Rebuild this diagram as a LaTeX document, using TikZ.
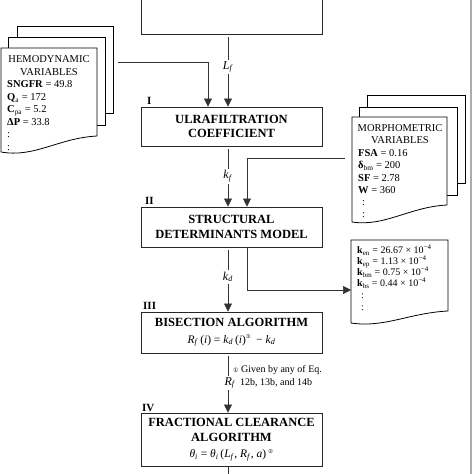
\documentclass[tikz,border=0pt]{standalone}
\usepackage{fontspec}
\setmainfont{Liberation Serif}
\newfontfamily\symf{DejaVu Sans}
\usetikzlibrary{arrows.meta}
\newcommand{\cnum}[1]{\textsuperscript{{\symf\fontsize{5.5}{5.5}\selectfont #1}}}
\newcommand{\isub}[2]{\textit{#1}\textsubscript{\textit{#2}}}
\begin{document}
\begin{tikzpicture}[x=1pt,y=-1pt,
  box/.style={draw=black!85, line width=0.9pt, minimum width=181pt, inner sep=0pt, align=center,
    font=\fontsize{12.5}{14}\selectfont\bfseries},
  arr/.style={draw=black!80, line width=0.7pt, -{Triangle[length=8pt,width=8pt]}},
  ln/.style={draw=black!80, line width=0.7pt},
  sheet/.style={draw=black, line width=0.8pt, fill=white},
  lab/.style={fill=white, inner sep=1.5pt, font=\fontsize{12}{12}\selectfont},
  rom/.style={anchor=base west, inner sep=0pt, font=\fontsize{11}{11}\selectfont\bfseries},
  dtitle/.style={anchor=base, inner sep=0pt, font=\fontsize{10.5}{10.5}\selectfont},
  drow/.style={anchor=base west, inner sep=0pt, font=\fontsize{10.5}{10.5}\selectfont},
  krow/.style={anchor=base west, inner sep=0pt, font=\fontsize{10}{10}\selectfont},
  fn/.style={anchor=base west, inner sep=0pt, font=\fontsize{10}{10}\selectfont}
]
\useasboundingbox (0,0) rectangle (474,474);
\clip (0,0) rectangle (474,474);
\fill[gray!65] (469.5,0) rectangle (471.5,474);

% hemodynamic variables document
\draw[sheet] (17,26) rectangle (113,113);
\draw[sheet] (8,37) rectangle (105,125);
\draw[sheet] (1,48) -- (97,48) -- (97,136) .. controls (58.6,138) and (34.6,158) .. (1,152) -- cycle;
\node[dtitle] (h1) at (49,62) {HEMODYNAMIC};
\node[dtitle] (h2) at (49,75) {VARIABLES};
\node[drow] (h3) at (7,87.5) {\textbf{SNGFR} = 49.8};
\node[drow] (h4) at (7,100.5) {\textbf{Q}\textsubscript{a} = 172};
\node[drow] (h5) at (7,112.5) {\textbf{C}\textsubscript{pa} = 5.2};
\node[drow] (h6) at (7,125.5) {\textbf{ΔP} = 33.8};
\node[drow] (h7) at (7,137.5) {:};
\node[drow] (h8) at (7,150) {:};
\coordinate (hemoout) at (118,62);

% morphometric variables document
\draw[sheet] (367,95) rectangle (465,183);
\draw[sheet] (359,107) rectangle (457,195);
\draw[sheet] (352,117) -- (447,117) -- (447,205) .. controls (409,207) and (385,227) .. (352,222) -- cycle;
\node[dtitle] (m1) at (400,131.5) {MORPHOMETRIC};
\node[dtitle] (m2) at (400,143.5) {VARIABLES};
\node[drow] (m3) at (358,156.5) {\textbf{FSA} = 0.16};
\node[drow] (m4) at (358,168.5) {\textbf{δ}\textsubscript{bm} = 200};
\node[drow] (m5) at (358,181.5) {\textbf{SF} = 2.78};
\node[drow] (m6) at (358,193.5) {\textbf{W} = 360};
\node[drow] (m7) at (362,205.5) {:};
\node[drow] (m8) at (362,217.5) {:};
\coordinate (morphout) at (345,158);

% k document
\draw[sheet] (351,240) -- (448,240) -- (448,311) .. controls (409,313) and (385,328) .. (351,323) -- cycle;
\node[krow] (k1) at (357,253.5) {\textbf{k}\textsubscript{en} = 26.67 × 10\textsuperscript{−4}};
\node[krow] (k2) at (357,264.5) {\textbf{k}\textsubscript{ep} = 1.13 × 10\textsuperscript{−4}};
\node[krow] (k3) at (357,275.5) {\textbf{k}\textsubscript{bm} = 0.75 × 10\textsuperscript{−4}};
\node[krow] (k4) at (357,286.5) {\textbf{k}\textsubscript{bs} = 0.44 × 10\textsuperscript{−4}};
\node[krow] (k5) at (361,298.5) {:};
\node[krow] (k6) at (361,310.5) {:};
\coordinate (kin) at (351,290);

% main boxes
\node[box, minimum height=48pt] (src) at (231.5,10) {};
\node[box, minimum height=39pt] (b1) at (231.5,126.5) {ULRAFILTRATION\\COEFFICIENT};
\node[box, minimum height=40pt, font=\fontsize{12.5}{15.5}\selectfont\bfseries] (b2) at (231.5,227) {STRUCTURAL\\DETERMINANTS MODEL};
\node[box, minimum height=41pt, font=\fontsize{12.5}{16.5}\selectfont\bfseries] (b3) at (231.5,332.5)
  {BISECTION ALGORITHM\\{\mdseries\fontsize{11.5}{11.5}\selectfont \isub{R}{f}\,(\textit{i}) = \isub{k}{d}\,(\textit{i})\cnum{①}\, − \isub{k}{d}}};
\node[box, minimum height=53pt, font=\fontsize{12.5}{15.5}\selectfont\bfseries] (b4) at (231.5,439.5)
  {FRACTIONAL CLEARANCE\\ALGORITHM\\{\mdseries\fontsize{11.5}{11.5}\selectfont \isub{θ}{i} = \isub{θ}{i}\,(\isub{L}{f}, \isub{R}{f}, \textit{a})\,\cnum{②}}};

\node[rom] (r1) at (147,104) {I};
\node[rom] (r2) at (145,204) {II};
\node[rom] (r3) at (143,309) {III};
\node[rom] (r4) at (142,411) {IV};

% connectors
\coordinate (mx) at (228,0);
\coordinate (hx) at (208,0);
\coordinate (sx) at (247,0);
\draw[arr, shorten <=3pt] (src.south -| mx) -- node[lab, pos=0.45] (lf) {\isub{L}{f}} (b1.north -| mx);
\draw[arr] (hemoout) -| (b1.north -| hx);
\draw[arr, shorten <=3pt] (b1.south -| mx) -- node[lab, pos=0.5] (kf) {\isub{k}{f}} (b2.north -| mx);
\draw[arr] (morphout) -| (b2.north -| sx);
\draw[arr, shorten <=3pt] (b2.south -| mx) -- node[lab, pos=0.46] (kd) {\isub{k}{d}} (b3.north -| mx);
\draw[arr] (b2.south -| sx) |- (kin);
\draw[arr, shorten <=3pt] (b3.south -| mx) -- node[lab, pos=0.5, xshift=2pt] (rf) {\isub{R}{f}} (b4.north -| mx);
\draw[ln] (b4.south -| mx) -- ++(0,10);

\node[fn] (fn1) at (233,372) {{\symf\fontsize{6}{6}\selectfont ①}\ Given by any of Eq.};
\node[fn] (fn2) at (240,385) {12b, 13b, and 14b};
\end{tikzpicture}
\end{document}
